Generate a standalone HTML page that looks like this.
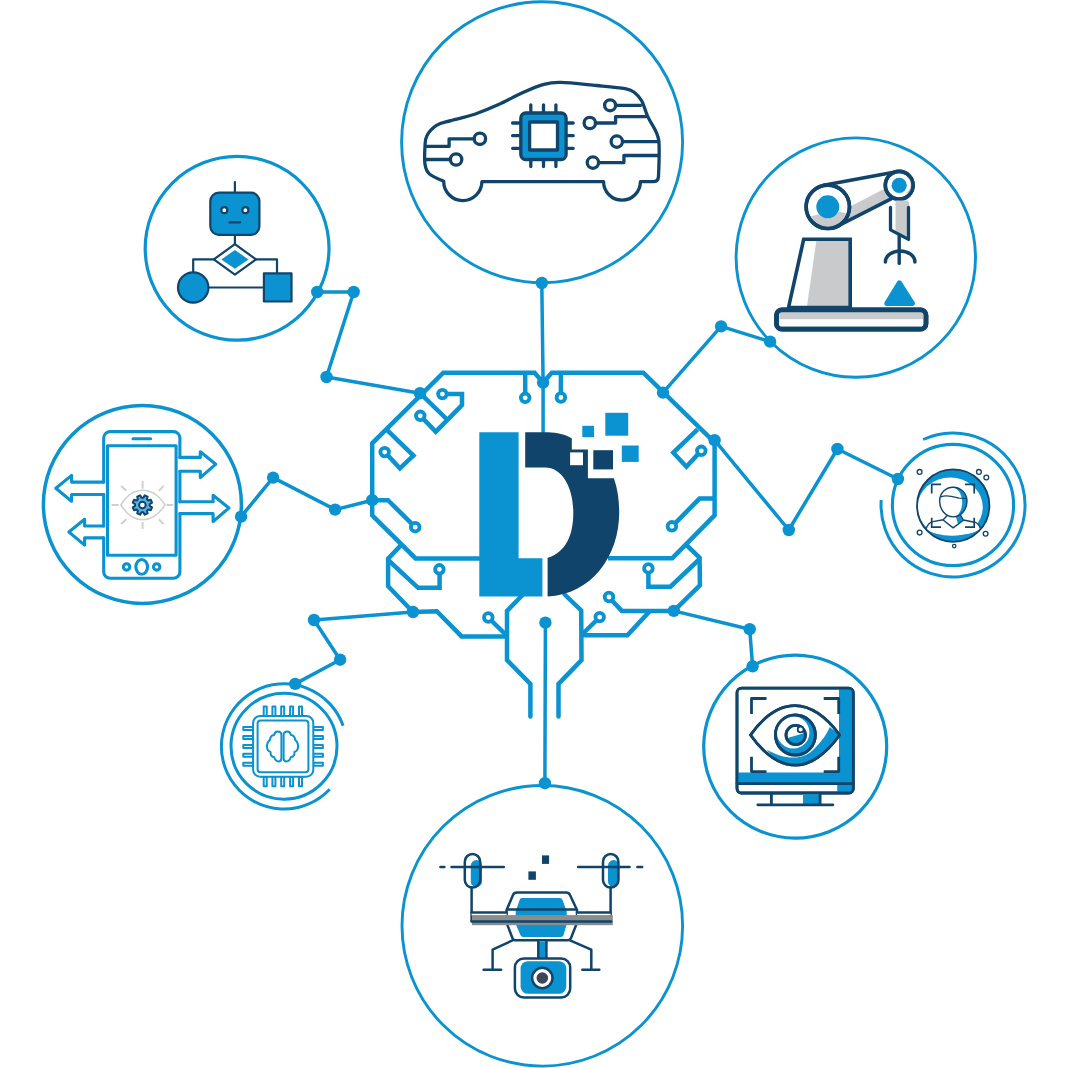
<!DOCTYPE html>
<html><head><meta charset="utf-8"><title>AI diagram</title>
<style>
html,body{margin:0;padding:0;background:#fff;font-family:"Liberation Sans",sans-serif;}
svg{display:block}
.lb{stroke:#0a93d0;fill:none}
.dk{stroke:#11446b;fill:none}
</style></head><body>
<svg width="1068" height="1068" viewBox="0 0 1068 1068">
<rect width="1068" height="1068" fill="#fff"/>
<!-- CONNECTIONS -->
<g class="lb" stroke-width="3.5" stroke-linejoin="round" stroke-linecap="round">
<polyline points="317.2,292 353.7,292 326.5,377 420,393.2"/>
<polyline points="241.1,516.6 273.1,477.6 335.1,509.6 372.2,500.2"/>
<polyline points="295.2,683.9 340.1,659.7 314,620 413,612"/>
<polyline points="541.8,283 543.1,382.6 543.1,432"/>
<polyline points="545.4,622.7 544.9,783.2"/>
<polyline points="663,392.6 721.1,326.4 770.1,341.6"/>
<polyline points="714.6,440.2 788.8,530 837.4,449 897.9,479"/>
<polyline points="673.8,610.9 749.7,629.2 752.6,666.3"/>
</g>
<g fill="#0a93d0">
<circle cx="317.2" cy="292" r="6.2"/><circle cx="353.7" cy="292" r="6.2"/><circle cx="326.5" cy="377" r="6.2"/><circle cx="420" cy="393.2" r="6.2"/>
<circle cx="241.1" cy="516.6" r="6.2"/><circle cx="273.1" cy="477.6" r="6.2"/><circle cx="335.1" cy="509.6" r="6.2"/><circle cx="372.2" cy="500.2" r="6.2"/>
<circle cx="295.2" cy="683.9" r="6.2"/><circle cx="340.1" cy="659.7" r="6.2"/><circle cx="314" cy="620" r="6.2"/><circle cx="413" cy="612" r="6.2"/>
<circle cx="541.8" cy="283" r="6.2"/><circle cx="543.1" cy="382.6" r="6.2"/>
<circle cx="545.4" cy="622.7" r="6.2"/><circle cx="544.9" cy="783.2" r="6.2"/>
<circle cx="663" cy="392.6" r="6.2"/><circle cx="721.1" cy="326.4" r="6.2"/><circle cx="770.1" cy="341.6" r="6.2"/>
<circle cx="714.6" cy="440.2" r="6.2"/><circle cx="788.8" cy="530" r="6.2"/><circle cx="837.4" cy="449" r="6.2"/><circle cx="897.9" cy="479" r="6.2"/>
<circle cx="673.8" cy="610.9" r="6.2"/><circle cx="749.7" cy="629.2" r="6.2"/><circle cx="752.6" cy="666.3" r="6.2"/>
</g>
<!-- BRAIN -->
<g class="lb" stroke-width="4.5" stroke-linejoin="miter" stroke-linecap="butt">
<!-- upper outline left -->
<polyline points="543.1,382.6 534.6,372.7 443.3,372.7 372.2,443.3 372.2,515.4 415.6,558.4 480,558.4"/>
<!-- upper outline right -->
<polyline points="543.1,382.6 551.8,372.7 643.3,372.7 714.6,442.4 714.6,515.4 672.3,558.2 608,558.2"/>
<!-- lower lobe left -->
<polyline points="400.6,545.6 388.1,558.6 388.1,586.2 413,612 436.8,611.2 461.6,636.4 507,636.4"/>
<polyline points="388.1,560 418.1,587.8 439.6,587.8 439.6,574"/>
<!-- lower lobe right -->
<polyline points="686.4,545 699.6,557.6 699.9,585.4 673.8,610.9 621.8,610.9 612.5,601"/>
<polyline points="699.6,559 670.4,586.7 648.4,586.7 648.4,573.4"/>
<polyline points="649.9,611 627.4,635.3 581.5,635.3"/>
<!-- stems -->
<polyline points="522.5,595 507,611 507,660.1 530.4,683.9 530.4,716.5" stroke-linecap="round"/>
<polyline points="564.6,594.5 581.2,610.5 581.5,660.1 558.5,683.9 558.5,716.5" stroke-linecap="round"/>
<line x1="491.8" y1="621" x2="506" y2="634.8"/>
<line x1="596.2" y1="620.6" x2="582.4" y2="634"/>
<!-- upper-left traces -->
<polyline points="447.4,394.1 462,394.1 462,405 435.8,431.7 423.8,419.4"/>
<line x1="420" y1="393.2" x2="447.6" y2="420"/>
<polyline points="386.4,429.4 413.4,455.6 399.9,468.4 388.2,455.8"/>
<polyline points="372.2,500.2 388,500.2 411.6,523.6"/>
<line x1="525.2" y1="372.7" x2="525.2" y2="392.8"/>
<line x1="560.9" y1="372.7" x2="560.9" y2="392.6"/>
<!-- upper-right traces -->
<polyline points="697.6,429.3 673.3,452.7 686.4,466.7 697.8,454.4"/>
<polyline points="714.6,498.6 699.5,498.6 675.5,522.8"/>
</g>
<g class="lb" stroke-width="3.8" fill="#fff">
<circle cx="442.4" cy="394.1" r="4.3"/><circle cx="420.3" cy="415.8" r="4.3"/><circle cx="384.7" cy="452.1" r="4.3"/><circle cx="415.2" cy="527.2" r="4.3"/>
<circle cx="525.2" cy="397.8" r="4.3"/><circle cx="560.9" cy="397.5" r="4.3"/>
<circle cx="701.3" cy="450.8" r="4.3"/><circle cx="671.9" cy="526.3" r="4.3"/>
<circle cx="439.4" cy="569.3" r="4.3"/><circle cx="648.4" cy="568.4" r="4.3"/>
<circle cx="488.3" cy="617.5" r="4.3"/><circle cx="599.7" cy="617.1" r="4.3"/><circle cx="609" cy="597" r="4.3"/>
</g>
<!-- LOGO -->
<path d="M479.3,432.2H518.6V558.2H542.4V596.6H479.3Z" fill="#0a93d0"/>
<path d="M525.2,432.2 H548 C557,432.4 565.5,434.4 571.8,438.4 V449.6 H587.9 V478.3 H613.9 C617.4,488 619.2,500 619.2,512.4 C619.2,556 592,594 547.6,596.6 V557.8 C566,552 573.3,535 573.3,512.4 C573.3,487 562,467.4 545,467.4 H525.2 Z" fill="#11446b"/>
<rect x="570.1" y="452.4" width="12.9" height="12.8" fill="#fff"/>
<rect x="593.3" y="450.2" width="19.7" height="19.2" fill="#11446b"/>
<rect x="582.3" y="425.8" width="11.8" height="11.4" fill="#0a93d0"/>
<rect x="605.3" y="412.8" width="22.9" height="22.9" fill="#0a93d0"/>
<rect x="621.8" y="445.5" width="16.9" height="16.4" fill="#0a93d0"/>
<!-- BIG CIRCLES -->
<g class="lb" stroke-width="3.4">
<circle cx="542.1" cy="142.2" r="140.5" stroke-width="2.9"/>
<circle cx="542.3" cy="925.8" r="140.3" stroke-width="2.9"/>
<circle cx="237.1" cy="248.3" r="91.9" stroke-width="3.2"/>
<circle cx="855.8" cy="257.6" r="119.7" stroke-width="2.9"/>
<circle cx="142.4" cy="504.4" r="99" stroke-width="3.5"/>
<circle cx="795.2" cy="746.6" r="91.5" stroke-width="3.2"/>
<circle cx="953" cy="505" r="60.6" stroke-width="3.1"/>
<circle cx="284" cy="746.2" r="53" stroke-width="3"/>
</g>
<!-- CAR -->
<g class="dk" stroke-width="3.3" stroke-linejoin="round" stroke-linecap="round">
<path d="M481.9,181.7 H603.6 A18.4,18.4 0 0 0 640.4,181.7 H653 Q658.2,181.7 658.5,176.3 C659,165 659.6,152 658.9,141.6 C658,131 652,126 647.8,116.6 C644.9,109.8 644.0,105.0 641.8,101.0 C639.6,97.0 637.5,94.8 634.7,92.7 C631.9,90.6 631.5,89.8 625.1,88.6 C618.7,87.4 607.2,86.5 596.5,85.5 C585.8,84.5 569.5,82.6 560.7,82.4 C551.9,82.2 550.3,82.6 543.9,84.3 C537.5,86.0 529.9,89.3 522.4,92.7 C514.9,96.1 506.6,101.0 498.6,104.6 C490.7,108.2 482.7,111.5 474.7,114.2 C466.7,116.9 457.2,118.7 450.8,120.6 C444.4,122.5 440.5,122.9 436.5,125.4 C432.5,127.9 428.8,132.2 426.9,135.7 C425.0,139.2 425.3,141.6 425.0,146.4 C424.7,151.2 424.3,159.7 425.0,164.3 C425.7,168.9 426.2,171.1 429.3,173.9 C432.4,176.7 441.3,180.0 443.7,181.2 A19.1,19.1 0 0 0 481.9,181.7 Z" fill="#fff"/>
<polyline points="474,138.8 449.1,138.8 449.1,146.4 425.7,146.4"/>
<line x1="450" y1="159.5" x2="425.7" y2="159.5"/>
<line x1="616" y1="105.3" x2="640.6" y2="105.3"/>
<polyline points="596,123 615.6,123 615.6,116.6 646.1,116.6"/>
<line x1="623" y1="141.6" x2="658.6" y2="141.6"/>
<polyline points="599,162.6 623.9,162.6 623.9,155.5 658.6,155.5"/>
<circle cx="479.9" cy="138.8" r="5.7"/><circle cx="456.1" cy="159.5" r="5.7"/>
<circle cx="610.1" cy="105.3" r="5.5"/><circle cx="589.8" cy="123" r="5.7"/><circle cx="616.8" cy="141.6" r="5.7"/><circle cx="592.9" cy="162.6" r="5.7"/>
<path d="M530.8,104.8V113M543.5,104.8V113M555.9,104.8V113M530.8,159.5V166.6M543.5,159.5V166.6M555.9,159.5V166.6M512.6,123H520.8M512.6,135.7H520.8M512.6,148.3H520.8M566.1,123H573.2M566.1,135.7H573.2M566.1,148.3H573.2"/>
<rect x="520.8" y="113" width="45.3" height="46.5" rx="5" fill="#0a93d0"/>
<rect x="529.6" y="122" width="27.9" height="28" fill="#fff"/>
</g>
<!-- ROBOT FLOW -->
<g class="dk" stroke-width="2.2" stroke-linejoin="round" stroke-linecap="round">
<line x1="234.9" y1="182.1" x2="234.9" y2="193"/>
<line x1="234.9" y1="234.8" x2="234.9" y2="245.3"/>
<polyline points="214,259.4 193.2,259.4 193.2,273"/>
<polyline points="256,259.4 277,259.4 277,273.4"/>
<line x1="208" y1="287.5" x2="264" y2="287.5"/>
<rect x="210.3" y="192.7" width="49.1" height="42.1" rx="8.5" fill="#0a93d0"/>
<circle cx="224.3" cy="210.2" r="3" fill="#fff"/><circle cx="245.4" cy="210.2" r="3" fill="#fff"/>
<line x1="229.5" y1="222.4" x2="240" y2="222.4"/>
<path d="M234.9,244.2 L256,259.4 L234.9,274.6 L213.8,259.4 Z" fill="#fff"/>
<path d="M234.9,250 L248.5,259.4 L234.9,268.8 L221.3,259.4 Z" fill="#0a93d0" stroke="none"/>
<circle cx="193.2" cy="287.5" r="15.2" fill="#0a93d0"/>
<rect x="263.9" y="273.4" width="27.6" height="28.1" fill="#0a93d0"/>
</g>
<!-- ROBOT ARM -->
<g class="dk" stroke-width="3.6" stroke-linejoin="round" stroke-linecap="round">
<path d="M803.7,239.2 H850.2 V307.6 H788.5 Z" fill="#fff" stroke="none"/>
<path d="M816.3,241 H849 V306 H807 Z" fill="#c9cacc" stroke="none"/>
<path d="M803.7,239.2 H850.2 V307.6 H788.5 Z" stroke-linejoin="miter"/>
<rect x="776.5" y="309.8" width="149.5" height="19.4" rx="5.5" fill="#fff" stroke-width="4.7"/>
<rect x="779.4" y="312.2" width="143.8" height="7" fill="#c9cacc" stroke="none"/>
<rect x="776.5" y="309.8" width="149.5" height="19.4" rx="5.5" stroke-width="4.7"/>
<path d="M825.6,183.6 L894.7,170.4 L905.8,199.2 L837,226.6 Z" fill="#fff" stroke="none"/>
<path d="M842.5,210.5 L886.3,187.8 L891.3,197 L848.3,218.4 Z" fill="#c9cacc" stroke="none"/>
<line x1="823.6" y1="185.2" x2="896.5" y2="171.7"/>
<line x1="837" y1="226.4" x2="891.5" y2="198.6"/>
<circle cx="827.8" cy="206.8" r="21.7" fill="#fff"/>
<path d="M810.6,216.6 A20,20 0 0 0 846.8,213.6 L838.4,211.4 A11.8,11.8 0 0 1 818.6,214.2 Z" fill="#c9cacc" stroke="none"/>
<circle cx="827.8" cy="206.8" r="21.7"/>
<circle cx="827.8" cy="206.8" r="11.5" fill="#0a93d0" stroke="none"/>
<circle cx="899.2" cy="185.3" r="13.9" fill="#fff"/>
<path d="M904,176 A9,9 0 0 1 905,193 L909.5,192.5 A12.4,12.4 0 0 0 909,177.5 Z" fill="#c9cacc" stroke="none"/>
<circle cx="899.2" cy="185.3" r="13.9"/>
<circle cx="899.2" cy="185.3" r="7.6" fill="#0a93d0" stroke="none"/>
<path d="M895.5,200.6 H907 Q909,200.6 909,203 V238 L895.5,232 Z" fill="#c9cacc" stroke="none"/>
<path d="M890.5,207.5 V229.9 L899,234.4 L908.5,239.4 V207.5" stroke-width="3.3"/>
<line x1="899.2" y1="234.4" x2="899.2" y2="263.4" stroke-width="3.4"/>
<path d="M885.4,261.9 A14.75,11 0 0 1 914.9,261.9" stroke-width="3.5"/>
<path d="M899.4,282.8 L912.4,303.4 H886.8 Z" fill="#0a93d0" stroke="#0a93d0" stroke-width="5"/>
</g>
<!-- FACE -->
<path class="lb" stroke-width="3" d="M923.2,439.5 A72,72 0 1 1 881.2,500.0"/>
<g class="dk" stroke-width="1.4" stroke-linejoin="round" stroke-linecap="round">
<circle cx="953.2" cy="505.6" r="36.2" fill="#0a93d0" stroke="none"/>
<ellipse cx="950.2" cy="507.2" rx="32.6" ry="29.8" fill="#fff" stroke="none"/>
<path d="M926.2 528.6 C927.5 524.5 930.2 522.3 932.9 521.6 L943.2 519.8 L947.2 515.5 L960.7 515.5 L963.4 520.0 L974.7 522.2 C976.9 522.9 979.2 525.0 980.5 528.6 C973.3 537.1 934.7 538.9 926.2 528.6 Z" fill="#fff" stroke="none"/>
<path d="M926.2 528.6 C934.7 538.9 973.3 537.1 980.5 528.6 C976.9 534.4 967.9 539.3 955.3 539.3 C942.8 539.3 932.0 535.3 926.2 528.6 Z" fill="#0a93d0" stroke="none"/>
<circle cx="953.2" cy="505.6" r="36.2" stroke-width="1.8"/>
<path d="M953.1 487.2 C960.7 487.2 967.0 493.5 967.0 501.1 C967.0 509.2 961.2 516.9 953.1 516.9 C945.4 516.9 939.6 509.2 939.6 501.1 C939.6 493.5 945.4 487.2 953.1 487.2 Z" fill="#fff" stroke="none"/>
<path d="M953.1 487.2 C960.7 487.2 967.0 493.5 967.0 501.1 C967.0 509.2 962.5 515.5 956.2 516.6 C961.2 511.9 963.4 504.7 961.6 497.6 C960.7 493.1 958.0 489.0 953.1 487.2 Z" fill="#0a93d0" stroke="none"/>
<path d="M955.8 516.6 L960.7 515.5 L963.4 520.2 L958.0 524.1 Z" fill="#0a93d0" stroke="none"/>
<path d="M953.1 487.2 C960.7 487.2 967.0 493.5 967.0 501.1 C967.0 509.2 961.2 516.9 953.1 516.9 C945.4 516.9 939.6 509.2 939.6 501.1 C939.6 493.5 945.4 487.2 953.1 487.2 Z"/>
<path d="M940.8 496.8 C947.2 494.4 953.5 496.7 958.9 498.1 L965.4 498.4"/>
<path d="M926.2 528.6 C927.5 524.5 930.2 522.3 932.9 521.6 L943.2 519.8 L947.2 515.5 M960.7 515.5 L963.4 520.0 L974.7 522.2 C976.9 522.9 979.2 525.0 980.5 528.6"/>
<path d="M943.2 520.0 L953.1 527.9 L963.4 520.2"/>
<path d="M931.7 493.5 L931.7 484.3 L941.1 484.3 M965.0 484.3 L974.2 484.3 L974.2 493.5 M931.7 517.8 L931.7 527.2 L941.1 527.2 M965.0 527.2 L974.2 527.2 L974.2 517.8" stroke-width="1.7" stroke-linecap="butt" stroke-linejoin="miter"/>
<g stroke-width="1.3" fill="#fff">
<circle cx="919.6" cy="471.9" r="2.4"/><circle cx="978.9" cy="471.9" r="2.4"/><circle cx="986.3" cy="477.5" r="2.4"/><circle cx="919.6" cy="532.6" r="2.4"/><circle cx="985.6" cy="533.7" r="2.4"/><circle cx="954.2" cy="546.1" r="1.7"/>
</g>
</g>
<!-- EYE MONITOR -->
<g class="dk" stroke-width="2.8" stroke-linejoin="round" stroke-linecap="round">
<rect x="737" y="688.1" width="116.3" height="104.9" rx="4.5" fill="#fff"/>
<path d="M839,688.1 H848.8 Q853.3,688.1 853.3,692.6 V788.5 Q853.3,793 848.8,793 H837.2 V783.4 H737 V772.5 H839 Z" fill="#0a93d0" stroke="none"/>
<line x1="737" y1="783.6" x2="853.3" y2="783.6"/>
<rect x="737" y="688.1" width="116.3" height="104.9" rx="4.5"/>
<rect x="803" y="794.4" width="17" height="10" fill="#0a93d0" stroke="none"/>
<path d="M771.4,794V804.8M820.1,794V804.8M757.8,804.8H832.9"/>
<path d="M751.5,714 V698.5 H766.5 M823.7,698.5 H838.7 V714 M751.5,756.7 V771.6 H766.5 M823.7,771.6 H838.7 V756.7" stroke-linecap="butt"/>
<path d="M750.5,735 C764,716 780,705.6 795.1,705.6 C810,705.6 826,716 839.6,735 C826,754 810,765.2 795.7,765.2 C780,765.2 764,754 750.5,735 Z" fill="#fff"/>
<path d="M839.6,735 C826,754 810,765.2 795.7,765.2 C785,765.2 775,760 766.5,749.4 C783,759 803,762 815,748 C822,741 827,734 829.8,726.9 C833,729.4 836,732 839.6,735 Z" fill="#0a93d0" stroke="none"/>
<path d="M750.5,735 C764,716 780,705.6 795.1,705.6 C810,705.6 826,716 839.6,735 C826,754 810,765.2 795.7,765.2 C780,765.2 764,754 750.5,735 Z"/>
<circle cx="795.4" cy="735" r="20" fill="#0a93d0"/>
<circle cx="793.2" cy="732.4" r="16.2" fill="#fff" stroke="none"/>
<circle cx="795.4" cy="735" r="20"/>
<circle cx="795.7" cy="735" r="9.7" fill="#fff"/>
<path d="M786.6,738.2 L804.8,733 A9.7,9.7 0 0 1 786.6,738.2 Z" fill="#0a93d0" stroke="none"/>
<circle cx="795.7" cy="735" r="9.7"/>
<circle cx="800.6" cy="729.4" r="2.9" fill="#fff" stroke-width="1.8"/>
</g>
<!-- DRONE -->
<g class="dk" stroke-width="2.5" stroke-linejoin="round" stroke-linecap="round">
<rect x="470.8" y="860" width="11.2" height="27" rx="5.6" fill="#0a93d0" stroke="none"/>
<rect x="608" y="860" width="11.2" height="27" rx="5.6" fill="#0a93d0" stroke="none"/>
<rect x="464.8" y="854" width="15.4" height="33.6" rx="7.7"/>
<rect x="603" y="854" width="15.4" height="33.6" rx="7.7"/>
<path d="M440.4,867H444.4M451.5,867H503.8M578.1,867H629.6M637.4,867H642.2"/>
<path d="M471.6,887.6V921M610.6,887.6V921"/>
<path d="M512.6,940.3 L492.6,949.6 V969.7 M483.6,969.7 H501.1 M570,940.3 L591.3,949.6 V969.7 M582.3,969.7 H599.3"/>
<path d="M517,892.5 H566 Q569,892.5 570,895 L577,910 V922.8 L571,938 Q570,940.3 567.6,940.3 H515.6 Q513.3,940.3 512.4,938 L506.6,922.8 V910 L513,895 Q514,892.5 517,892.5 Z" fill="#fff"/>
<path d="M522,898.1 H559.6 Q562,898.1 562.8,900.4 L566.7,911.6 V924 L563.6,935 Q563,937.1 560.6,937.1 H523.4 Q521,937.1 520.4,935 L515.7,924 V911.6 L519.4,900.4 Q520,898.1 522,898.1 Z" fill="#0a93d0" stroke="none"/>
<rect x="471.6" y="912.4" width="35" height="3" fill="#fff" stroke="none"/><rect x="577" y="912.4" width="33.6" height="3" fill="#fff" stroke="none"/>
<rect x="472" y="915.1" width="140.8" height="10.1" fill="#8b8c8e" stroke="none"/>
<path d="M471.6,912.4 H506.6 M577,912.4 H610.6 M471.6,921.5 H611.2 M508,909.6 H576"/>
<rect x="538.3" y="941.6" width="8.1" height="17" fill="#0a93d0" stroke="none"/>
<path d="M538.3,941.6V958.6M546.4,941.6V958.6"/>
<rect x="514.9" y="958.6" width="55.3" height="39" rx="9" fill="#fff"/>
<rect x="520.6" y="961.2" width="45.7" height="32.6" rx="7.4" fill="#0a93d0" stroke="none"/>
<circle cx="542.3" cy="978" r="10.2" fill="#fff"/>
<circle cx="542.3" cy="978" r="5.8" fill="#3f4458" stroke="none"/>
<rect x="542" y="855.4" width="7.1" height="8.5" fill="#11446b" stroke="none"/>
<rect x="528.4" y="871.4" width="7.5" height="8.4" fill="#11446b" stroke="none"/>
</g>
<!-- CHIP BRAIN -->
<path class="lb" stroke-width="3" d="M343.1,725.8 A62.6,62.6 0 1 0 329.7,789.2"/>
<g class="lb" stroke-width="2" stroke-linejoin="round">
<rect x="263.7" y="706.4" width="3" height="9.6"/><rect x="263.7" y="776.7" width="3" height="9.6"/><rect x="272.4" y="706.4" width="3" height="9.6"/><rect x="272.4" y="776.7" width="3" height="9.6"/><rect x="281.2" y="706.4" width="3" height="9.6"/><rect x="281.2" y="776.7" width="3" height="9.6"/><rect x="290.1" y="706.4" width="3" height="9.6"/><rect x="290.1" y="776.7" width="3" height="9.6"/><rect x="299.0" y="706.4" width="3" height="9.6"/><rect x="299.0" y="776.7" width="3" height="9.6"/><rect x="243.3" y="727.1" width="9.8" height="3"/><rect x="313.3" y="727.1" width="9.6" height="3"/><rect x="243.3" y="735.9" width="9.8" height="3"/><rect x="313.3" y="735.9" width="9.6" height="3"/><rect x="243.3" y="744.9" width="9.8" height="3"/><rect x="313.3" y="744.9" width="9.6" height="3"/><rect x="243.3" y="753.8" width="9.8" height="3"/><rect x="313.3" y="753.8" width="9.6" height="3"/><rect x="243.3" y="762.8" width="9.8" height="3"/><rect x="313.3" y="762.8" width="9.6" height="3"/>
<rect x="253.1" y="716" width="60.2" height="60.7" rx="7" fill="#fff"/>
<rect x="257.6" y="720.5" width="50.8" height="51.7" rx="3"/>
<path d="M281.4 734.9 Q281.4 731.4 277.8 731.4 Q274.7 731.4 274.2 734.9 Q270.2 735.3 270.0 739.8 Q266.6 742.9 267.0 747.0 Q267.0 751.0 270.6 751.9 Q270.0 756.4 274.2 757.3 Q275.6 761.4 278.2 761.4 Q281.4 761.4 281.4 758.2 Z"/><path d="M283.6 734.9 Q283.6 731.4 287.2 731.4 Q290.4 731.4 290.8 734.9 Q294.9 735.3 295.1 739.8 Q298.5 742.9 298.0 747.0 Q298.0 751.0 294.4 751.9 Q295.1 756.4 290.8 757.3 Q289.5 761.4 286.8 761.4 Q283.6 761.4 283.6 758.2 Z"/>
</g>
<!-- PHONE -->
<g class="lb" stroke-width="3.1" stroke-linejoin="round" stroke-linecap="round">
<path d="M179.9,457.4 H200.3 V451.8 L215.8,464.2 L200.3,477.6 V471.3 H179.9"/>
<path d="M179.9,501.7 H213.1 V495.2 L228.9,508 L213.1,521.5 V513.6 H179.9"/>
<path d="M103.7,482.1 H71.6 V475.4 L55.8,488.2 L71.6,501.2 V494.5 H103.7"/>
<path d="M103.7,526 H84.6 V519.2 L68.9,532 L84.6,545.1 V537.9 H103.7"/>
<path d="M103.7,482.1 V438.1 A6.5,6.5 0 0 1 110.2,431.6 H173.4 A6.5,6.5 0 0 1 179.9,438.1 V457.4 M179.9,471.3 V501.7 M179.9,513.6 V571.8 A6.5,6.5 0 0 1 173.4,578.3 H110.2 A6.5,6.5 0 0 1 103.7,571.8 V537.9 M103.7,526 V494.5"/>
<rect x="107.5" y="445.7" width="68.6" height="109.5"/>
<line x1="133" y1="438.8" x2="150.6" y2="438.8"/>
<ellipse cx="141.7" cy="566.9" rx="5.8" ry="7.4"/>
<circle cx="126.6" cy="566.9" r="3.2"/><circle cx="156.7" cy="566.9" r="3.2"/>
</g>
<g stroke="#d0d0d0" stroke-width="1.6" fill="none" stroke-linecap="butt">
<path d="M120.9,505 C127,495 134.5,490.3 142.6,490.3 C151,490.3 158.6,495 164.9,505 C158.6,515 151,519.7 142.6,519.7 C134.5,519.7 127,515 120.9,505 Z"/>
<path stroke-width="2" d="M142.6,481.1V488.7M142.6,522.1V528.9M111.5,505H118.7M166.5,505H173.2M121.1,485.9L126.3,490.7M163.7,485.9L158.9,490.9M121.1,524.1L126.3,519.3M163.7,524.1L158.9,519.3"/>
</g>
<g class="dk" stroke-width="2" stroke-linejoin="round">
<path fill="#5aafe3" d="M149.74,505.91 L152.03,507.28 L150.83,510.20 L148.23,509.55 L146.95,510.83 L147.60,513.43 L144.68,514.63 L143.31,512.34 L141.49,512.34 L140.12,514.63 L137.20,513.43 L137.85,510.83 L136.57,509.55 L133.97,510.20 L132.77,507.28 L135.06,505.91 L135.06,504.09 L132.77,502.72 L133.97,499.80 L136.57,500.45 L137.85,499.17 L137.20,496.57 L140.12,495.37 L141.49,497.66 L143.31,497.66 L144.68,495.37 L147.60,496.57 L146.95,499.17 L148.23,500.45 L150.83,499.80 L152.03,502.72 L149.74,504.09 Z"/>
<circle cx="142.4" cy="505" r="3.3" fill="#fff"/>
</g>
<!--ICONS-->
</svg>
</body></html>
